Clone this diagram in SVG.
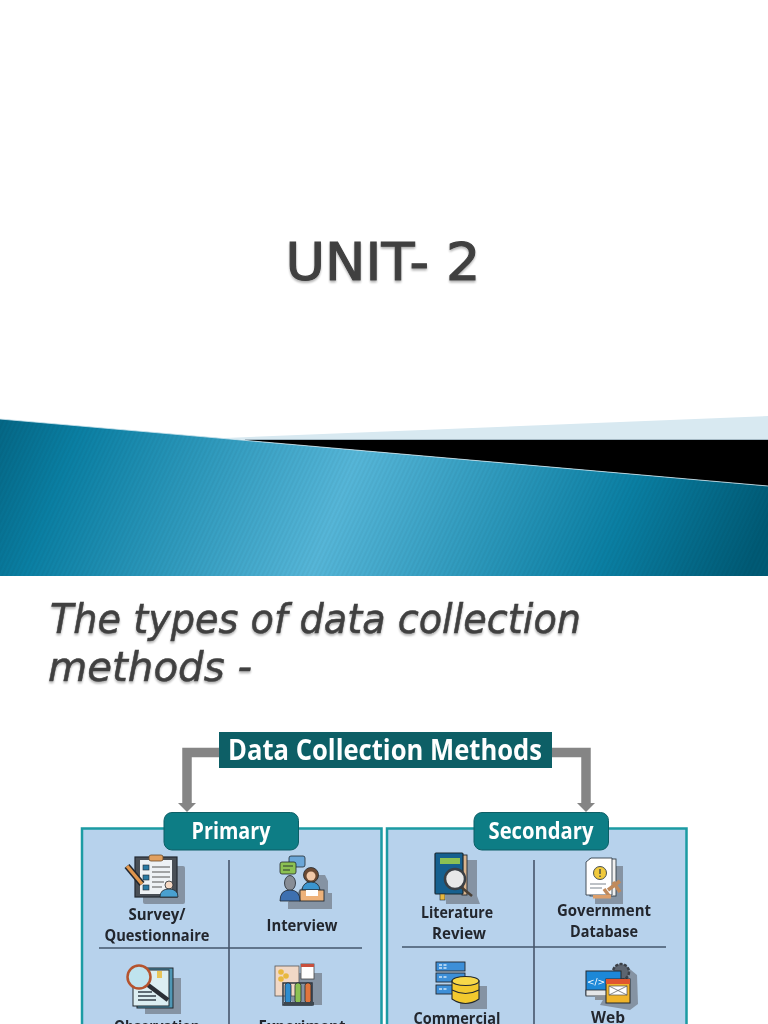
<svg xmlns="http://www.w3.org/2000/svg" width="768" height="1024" viewBox="0 0 768 1024">
<style>
.title{font-family:"DejaVu Sans",sans-serif;fill:#404040;stroke:#404040}
.lbl{font-family:"Open Sans","Liberation Sans",sans-serif;font-weight:700;font-size:16.5px;fill:#23272e;text-anchor:middle}
.pill{fill:#117d85;stroke:#0d5f66;stroke-width:1}
.pilltxt{font-family:"Open Sans","Liberation Sans",sans-serif;font-weight:700;font-size:23px;fill:#fff;text-anchor:middle}
.panel{fill:#b7d2ec;stroke:#1a9ba3;stroke-width:2.5}
.div{stroke:#46566c;stroke-width:1.6;fill:none}
.sh{fill:#8593a3}
</style>
<defs>
<linearGradient id="band" gradientUnits="userSpaceOnUse" x1="-40" y1="355" x2="720" y2="645">
<stop offset="0" stop-color="#00546e"/>
<stop offset="0.17" stop-color="#0a7fa3"/>
<stop offset="0.5" stop-color="#56b6d8"/>
<stop offset="0.83" stop-color="#0a7fa3"/>
<stop offset="1" stop-color="#005a75"/>
</linearGradient>
<pattern id="hatch" width="4" height="4" patternUnits="userSpaceOnUse" patternTransform="rotate(25)">
<rect width="2" height="4" fill="#000" fill-opacity="0.035"/>
</pattern>
<filter id="soft" x="-5%" y="-5%" width="110%" height="110%"><feGaussianBlur stdDeviation="0.45"/></filter>
<filter id="tsh" x="-5%" y="-10%" width="110%" height="125%"><feGaussianBlur in="SourceAlpha" stdDeviation="1.2"/><feOffset dy="1.5"/><feComponentTransfer><feFuncA type="linear" slope="0.3"/></feComponentTransfer><feMerge><feMergeNode/><feMergeNode in="SourceGraphic"/></feMerge></filter>
</defs>
<rect width="768" height="1024" fill="#fff"/>
<g id="banner">
<polygon points="225,438 768,416 768,440 245,440" fill="#d8e9f1"/>
<path d="M245,439.600 H768" stroke="#9fb4bf" stroke-width="1"/>
<polygon points="240,440 768,440 768,486" fill="#000"/>
<polygon points="0,419 768,486 768,576 0,576" fill="url(#band)"/>
<polygon points="0,419 768,486 768,576 0,576" fill="url(#hatch)"/>
<polyline points="0,419 768,486" fill="none" stroke="#cfe6ef" stroke-width="0.8"/>
</g>
<text class="title" x="383" y="280" font-size="52" stroke-width="1.100" text-anchor="middle" textLength="195" lengthAdjust="spacingAndGlyphs" filter="url(#tsh)">UNIT- 2</text>
<g filter="url(#tsh)">
<text class="title" x="50" y="633" font-size="40" stroke-width="0.500" font-style="italic" textLength="531" lengthAdjust="spacingAndGlyphs">The types of data collection</text>
<text class="title" x="48" y="681" font-size="40" stroke-width="0.500" font-style="italic" textLength="204" lengthAdjust="spacingAndGlyphs">methods -</text>
</g>
<g filter="url(#soft)">
<g id="connectors">
<path d="M219,752.500 H187 V804" fill="none" stroke="#858585" stroke-width="9.500"/>
<polygon points="178,803 196,803 187,812" fill="#858585"/>
<path d="M552,752.500 H586 V804" fill="none" stroke="#858585" stroke-width="9.500"/>
<polygon points="577,803 595,803 586,812" fill="#858585"/>
</g>
<g id="panel-primary">
<rect class="panel" x="82" y="828.500" width="299.500" height="210"/>
<path class="div" d="M229,860 V1024 M99,948 H362"/>
</g>
<g id="panel-secondary">
<rect class="panel" x="387" y="828.500" width="299.500" height="210"/>
<path class="div" d="M534,860 V1024 M402,947 H666"/>
</g>
<g id="root">
<rect x="219" y="732" width="333" height="36" fill="#0f5f66"/>
<text x="385" y="760" font-family="Open Sans, Liberation Sans, sans-serif" font-weight="700" font-size="28" fill="#fff" text-anchor="middle" textLength="314" lengthAdjust="spacingAndGlyphs">Data Collection Methods</text>
</g>
<g id="primary">
<rect class="pill" x="164" y="812.500" width="134.500" height="37.500" rx="8"/>
<text class="pilltxt" x="231" y="839" textLength="79" lengthAdjust="spacingAndGlyphs">Primary</text>
</g>
<g id="secondary">
<rect class="pill" x="474" y="812.500" width="134.500" height="37.500" rx="8"/>
<text class="pilltxt" x="541" y="839" textLength="105" lengthAdjust="spacingAndGlyphs">Secondary</text>
</g>
<g id="survey">
<rect class="sh" x="143" y="866" width="42" height="38" rx="2"/>
<rect x="135" y="857" width="42" height="40" fill="#4a4f57" stroke="#22282f" stroke-width="1.200"/>
<rect x="140" y="860" width="32" height="34" fill="#eef2f5"/>
<rect x="149" y="855" width="14" height="6" rx="2" fill="#e0a060" stroke="#6b4a2a" stroke-width="0.8"/>
<rect x="143" y="865" width="6" height="5" fill="#2c7aa3" stroke="#22282f" stroke-width="0.6"/>
<rect x="143" y="875" width="6" height="5" fill="#2c7aa3" stroke="#22282f" stroke-width="0.6"/>
<rect x="143" y="885" width="6" height="5" fill="#2c7aa3" stroke="#22282f" stroke-width="0.6"/>
<path d="M152,867 H170 M152,872 H170 M152,877 H170 M152,882 H164 M152,887 H162" stroke="#555" stroke-width="1.200"/>
<path d="M127,866 L142,884" stroke="#22282f" stroke-width="6.500"/>
<path d="M127,866 L142,884" stroke="#e0964e" stroke-width="3.500"/>
<circle cx="169" cy="885" r="4" fill="#f6d9c4" stroke="#22282f" stroke-width="0.8"/>
<path d="M160,897 Q160,889 169,889 Q178,889 178,897 Z" fill="#4aa0d0" stroke="#22282f" stroke-width="0.8"/>
</g>
<g id="interview">
<polygon class="sh" points="312,875 325,875 328,881 328,893 332,893 332,909 288,909 288,902 300,890" />
<rect x="289" y="856" width="16" height="11" rx="2" fill="#6aa6d8" stroke="#22282f" stroke-width="0.8"/>
<rect x="280" y="862" width="16" height="12" rx="2" fill="#8cc152" stroke="#22282f" stroke-width="0.8"/>
<path d="M283,866 H293 M283,870 H290" stroke="#22282f" stroke-width="0.9"/>
<circle cx="311" cy="875" r="7.500" fill="#6b4a32" stroke="#22282f" stroke-width="0.8"/>
<circle cx="311" cy="876" r="4.500" fill="#f2c9a8"/>
<path d="M302,890 Q303,882 311,882 Q319,882 320,890 Z" fill="#3a95cf" stroke="#22282f" stroke-width="0.8"/>
<rect x="300" y="890" width="24" height="11" fill="#eeb27a" stroke="#22282f" stroke-width="0.9"/>
<rect x="306" y="890" width="12" height="6" fill="#fff"/>
<ellipse cx="290" cy="883" rx="5.500" ry="7.500" fill="#878d96" stroke="#22282f" stroke-width="0.8"/>
<path d="M280,901 Q280,890 290,890 Q300,890 300,901 Z" fill="#3c6fb0" stroke="#22282f" stroke-width="0.8"/>
</g>
<g id="observation">
<rect class="sh" x="145" y="978" width="36" height="36"/>
<rect x="137" y="968" width="36" height="40" fill="#4f97b5" stroke="#22282f" stroke-width="1"/>
<rect x="133" y="970" width="36" height="36" fill="#dceef2" stroke="#22282f" stroke-width="1"/>
<rect x="157" y="971" width="5" height="7" fill="#e8c458"/>
<path d="M138,992 H152 M138,996 H156 M138,1000 H156" stroke="#33404a" stroke-width="1.300"/>
<path d="M148,985 L168,1000" stroke="#2a2f36" stroke-width="4.500"/>
<circle cx="139" cy="977" r="11.500" fill="#bfe3ee" stroke="#b5532d" stroke-width="2.500"/>
</g>
<g id="experiment">
<rect class="sh" x="292" y="973" width="30" height="32"/>
<rect x="275" y="966" width="24" height="30" fill="#f1d8c6" stroke="#555" stroke-width="0.8"/>
<circle cx="281" cy="972" r="2.800" fill="#e8b83e"/><circle cx="286" cy="976" r="2.800" fill="#e8b83e"/><circle cx="281" cy="979" r="2.800" fill="#e8b83e"/>
<rect x="301" y="964" width="13" height="15" fill="#fff" stroke="#444" stroke-width="0.8"/>
<rect x="301" y="964" width="13" height="3" fill="#c8503c"/>
<rect x="283" y="983" width="29" height="22" fill="none" stroke="#2e3640" stroke-width="1.500"/>
<rect x="285" y="983" width="6" height="20" rx="2.500" fill="#2f8dd0" stroke="#22282f" stroke-width="0.8"/>
<rect x="295" y="983" width="6" height="20" rx="2.500" fill="#8cc152" stroke="#22282f" stroke-width="0.8"/>
<rect x="305" y="983" width="6" height="20" rx="2.500" fill="#e0743c" stroke="#22282f" stroke-width="0.8"/>
<rect x="284" y="1002" width="30" height="3.500" fill="#3d4650"/>
</g>
<g id="literature">
<polygon class="sh" points="445,860 477,860 477,896 480,904 446,904"/>
<rect x="462" y="855" width="5" height="40" fill="#d9b58f" stroke="#22282f" stroke-width="0.9"/>
<rect x="435" y="853" width="28" height="41" rx="1" fill="#15608f" stroke="#1c2830" stroke-width="1.200"/>
<rect x="440" y="858" width="20" height="6" fill="#8cc152"/>
<rect x="440" y="894" width="5" height="6" fill="#e8b83e" stroke="#22282f" stroke-width="0.6"/>
<path d="M461,887 L472,896" stroke="#4a3f35" stroke-width="2.500"/>
<circle cx="455" cy="879" r="10" fill="#e8e8e8" stroke="#3a3f44" stroke-width="2.500"/>
</g>
<g id="government">
<rect class="sh" x="595" y="866" width="28" height="38"/>
<rect x="590" y="859" width="26" height="37" fill="#f0f0f0" stroke="#33404a" stroke-width="0.900"/>
<polygon points="591,858 612,858 612,895 586,895 586,862" fill="#fff" stroke="#33404a" stroke-width="0.900"/>
<circle cx="600" cy="873" r="6.500" fill="#f0c93c" stroke="#33404a" stroke-width="0.900"/>
<path d="M600,869 V874 M600,875.500 V877" stroke="#33404a" stroke-width="1.300"/>
<path d="M590,884 H606 M590,888 H602" stroke="#7a838c" stroke-width="1"/>
<path d="M608,890 L620,881 M604,889 L610,897 M613,882 L620,892" stroke="#c08a5c" stroke-width="3.500" fill="none"/>
<rect x="593" y="895" width="18" height="3.500" fill="#dd9f6a"/>
</g>
<g id="commercial">
<rect class="sh" x="460" y="986" width="27" height="23"/>
<g fill="#3d8fd8" stroke="#22282f" stroke-width="0.900">
<rect x="436" y="962" width="29" height="9"/>
<rect x="436" y="973" width="29" height="9"/>
<rect x="436" y="985" width="20" height="9"/>
</g>
<path d="M439,965 H448 M439,968 H448 M439,977 H448 M439,989 H448" stroke="#cfe6f7" stroke-width="1.500" stroke-dasharray="3 1.500"/>
<path d="M452,981 V999 Q465.500,1008 479,999 V981 Z" fill="#f2c92e" stroke="#22282f" stroke-width="1.100"/>
<ellipse cx="465.500" cy="981" rx="13.500" ry="4.500" fill="#f7d84a" stroke="#22282f" stroke-width="1.100"/>
<path d="M452,990 Q465.500,997 479,990" fill="none" stroke="#22282f" stroke-width="1.100"/>
</g>
<g id="web">
<polygon class="sh" points="625,965 637,975 638,1004 630,1010 600,1005 620,970"/>
<circle cx="621" cy="972" r="8" fill="#5d656f" stroke="#3a4047" stroke-width="2.500" stroke-dasharray="3 1.500"/>
<rect x="586" y="971" width="35" height="24" fill="#1e88d8" stroke="#22282f" stroke-width="1"/>
<rect x="586" y="990" width="35" height="6" fill="#e4e6e8" stroke="#22282f" stroke-width="0.800"/>
<rect x="595" y="996" width="14" height="4" fill="#8a9199"/>
<text x="596" y="985" font-family="DejaVu Sans, sans-serif" font-size="9" fill="#fff" text-anchor="middle">&lt;/&gt;</text>
<rect x="606" y="979" width="24" height="24" fill="#f0b429" stroke="#22282f" stroke-width="1"/>
<rect x="606" y="979" width="24" height="5" fill="#e0552f"/>
<rect x="609" y="986" width="18" height="9" fill="#fff" stroke="#555" stroke-width="0.700"/>
<path d="M609,986 L627,995 M627,986 L609,995" stroke="#555" stroke-width="0.700"/>
</g>
<g id="labels">
<text class="lbl" x="157" y="920" textLength="57" lengthAdjust="spacingAndGlyphs">Survey/</text>
<text class="lbl" x="157" y="941" textLength="105" lengthAdjust="spacingAndGlyphs">Questionnaire</text>
<text class="lbl" x="302" y="931" textLength="71" lengthAdjust="spacingAndGlyphs">Interview</text>
<text class="lbl" x="157" y="1032" textLength="86" lengthAdjust="spacingAndGlyphs">Observation</text>
<text class="lbl" x="302" y="1032" textLength="87" lengthAdjust="spacingAndGlyphs">Experiment</text>
<text class="lbl" x="457" y="918" textLength="72" lengthAdjust="spacingAndGlyphs">Literature</text>
<text class="lbl" x="459" y="939" textLength="54" lengthAdjust="spacingAndGlyphs">Review</text>
<text class="lbl" x="604" y="916" textLength="94" lengthAdjust="spacingAndGlyphs">Government</text>
<text class="lbl" x="604" y="937" textLength="68" lengthAdjust="spacingAndGlyphs">Database</text>
<text class="lbl" x="457" y="1024" textLength="87" lengthAdjust="spacingAndGlyphs">Commercial</text>
<text class="lbl" x="608" y="1023" textLength="34" lengthAdjust="spacingAndGlyphs">Web</text>
</g>
</g>
</svg>
